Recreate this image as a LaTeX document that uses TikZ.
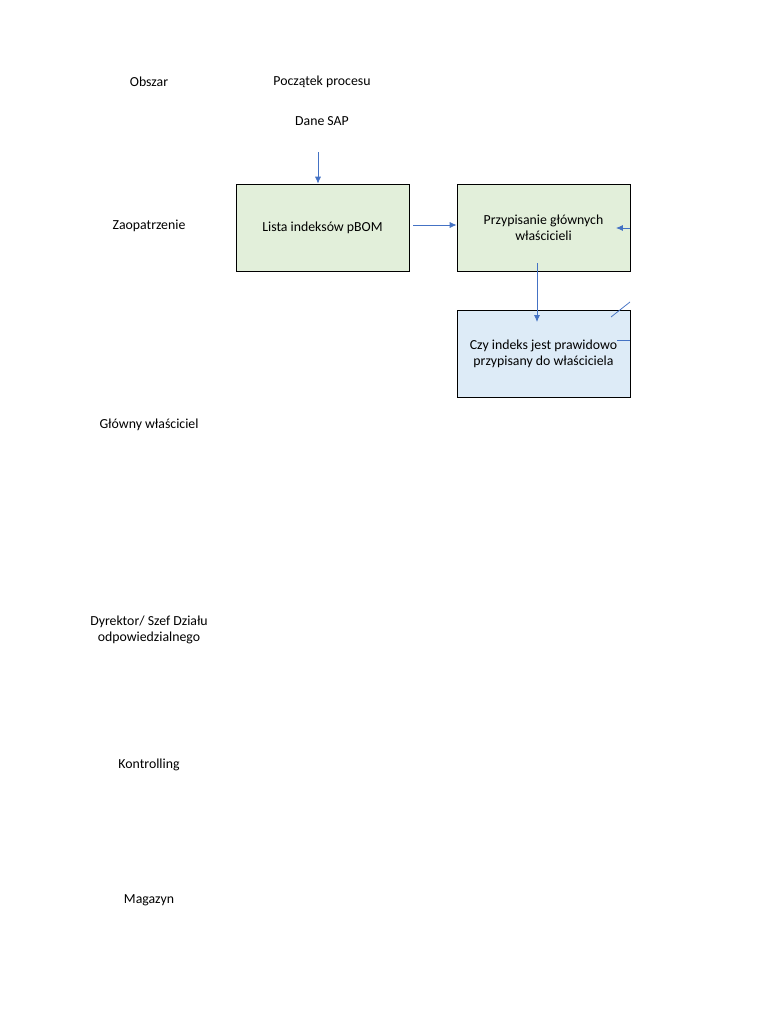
\documentclass[tikz,border=0pt]{standalone}
\usepackage{fontspec}
\setmainfont{Carlito}
\usetikzlibrary{arrows,arrows.meta,calc}
\definecolor{BoxGreen}{RGB}{226,239,218}
\definecolor{BoxBlue}{RGB}{221,235,247}
\definecolor{LinkClr}{RGB}{68,114,196}

\begin{document}
\begin{tikzpicture}[x=0.796875pt,y=-0.796875pt,
  lane/.style={align=center,font=\fontsize{11}{13}\selectfont},
  stepbox/.style={draw=black,line width=0.6pt,minimum width=137.9pt,minimum height=69.3pt,
    align=center,inner sep=0pt,font=\fontsize{11}{13}\selectfont},
  link/.style={draw=LinkClr,line width=0.6pt,-{Latex[length=5.5pt,width=4.8pt]}}]
\useasboundingbox (0,0) rectangle (768,1024);

% lanes
\node[lane] (obszar) at (149,82) {Obszar};
\node[lane] (zaop) at (149,226) {Zaopatrzenie};
\node[lane] (wlasc) at (149,425) {Główny właściciel};
\node[lane] (dyr) at (149,630) {Dyrektor/ Szef Działu\\odpowiedzialnego};
\node[lane] (kontr) at (149,765) {Kontrolling};
\node[lane] (mag) at (149,900) {Magazyn};

% start
\node[lane] (start) at (322,82) {Początek procesu};
\node[lane] (sap) at (322,121) {Dane SAP};

% steps
\node[stepbox,fill=BoxGreen] (lista) at (322.5,227.5) {Lista indeksów pBOM};
\node[stepbox,fill=BoxGreen] (przyp) at (543.5,227.5) {Przypisanie głównych\\właścicieli};
\node[stepbox,fill=BoxBlue] (czy) at (543.5,353.5) {Czy indeks jest prawidowo\\przypisany do właściciela};

% free ends
\coordinate (sapOut) at (318,152);
\coordinate (listaOut) at (413,225);
\coordinate (przypOut) at (537,263);
\coordinate (czyIn) at (537,322);
\coordinate (backIn) at (630,228);
\coordinate (backOut) at (616,228);
\coordinate (diagA) at (630,302);
\coordinate (diagB) at (611,317);
\coordinate (stubA) at (617,340);
\coordinate (stubB) at (630,340);

% links
\draw[link] (sapOut) -- (sapOut |- lista.north);
\draw[link] (listaOut) -- (listaOut -| przyp.west);
\draw[link] (backIn) -- (backOut);
\draw[link] (przypOut) -- (czyIn);
\draw[LinkClr,line width=0.6pt] (diagA) -- (diagB);
\draw[LinkClr,line width=0.6pt] (stubA) -- (stubB);

\end{tikzpicture}
\end{document}
